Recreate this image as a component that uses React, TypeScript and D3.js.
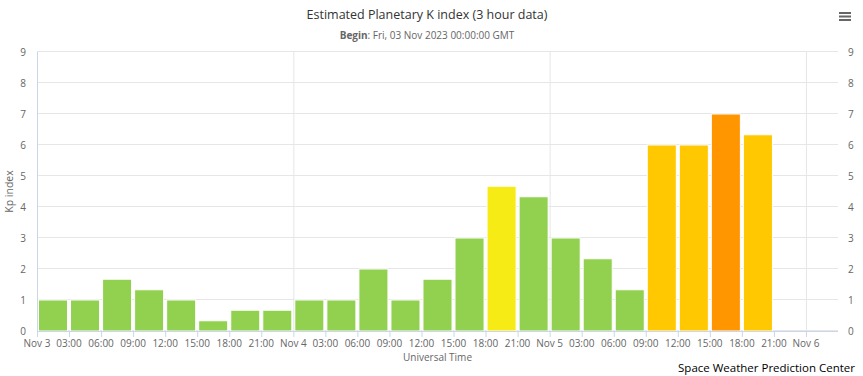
import React from "react";
import * as d3 from "d3";

const kpValues: (number | null)[] = [
  1, 1, 1.67, 1.33, 1, 0.33, 0.67, 0.67,
  1, 1, 2, 1, 1.67, 3, 4.67, 4.33,
  3, 2.33, 1.33, 6, 6, 7, 6.33, null,
];
const yTicks = [0, 1, 2, 3, 4, 5, 6, 7, 8, 9];
const startMs = Date.UTC(2023, 10, 3, 0, 0, 0);
const hourMs = 3600 * 1000;
const colorThresholds = [4.5, 5.5, 6.5, 7.5];
const colorRange = ["#92D050", "#F6EB14", "#FFC800", "#FF9600", "#FF0000"];

const W = 863;
const H = 376;
const left = 37;
const right = 838;
const top = 52;
const bottom = 331;
const FONT = "'Open Sans', 'DejaVu Sans', sans-serif";

export default function App() {
  const x = d3
    .scaleUtc()
    .domain([new Date(startMs), new Date(startMs + 75 * hourMs)])
    .range([left, right]);
  const y = d3.scaleLinear().domain([0, 9]).range([bottom, top]);
  const color = d3.scaleThreshold<number, string>().domain(colorThresholds).range(colorRange);

  const xTicks: Date[] = d3.range(0, 73, 3).map((h) => new Date(startMs + h * hourMs));
  const dayTicks = xTicks.filter((d) => d.getUTCHours() === 0);
  const fmtTick = (d: Date) =>
    d.getUTCHours() === 0 ? `Nov ${d.getUTCDate()}` : d3.utcFormat("%H:%M")(d);

  return (
    <svg width={W} height={H} style={{ display: "block", position: "absolute", left: 0, top: 0 }} fontFamily={FONT}>
      <rect width={W} height={H} fill="#fff" />
      {yTicks.map((t) => (
        <line key={"g" + t} x1={left} x2={right} y1={y(t) - 0.5} y2={y(t) - 0.5} stroke="#e6e6e6" strokeWidth={1} />
      ))}
      {dayTicks.map((d, i) => (
        <line key={"v" + i} x1={x(d) + 0.5} x2={x(d) + 0.5} y1={top} y2={bottom} stroke="#e6e6e6" strokeWidth={1} />
      ))}
      {kpValues.map((v, i) =>
        v == null ? null : (
          <rect
            key={"b" + i}
            x={x(new Date(startMs + i * 3 * hourMs)) + 1.5}
            y={y(v)}
            width={x(new Date(startMs + (i + 1) * 3 * hourMs)) - x(new Date(startMs + i * 3 * hourMs)) - 3}
            height={bottom - y(v)}
            fill={color(v)}
            stroke="#fff"
            strokeWidth={1}
          />
        )
      )}
      <line x1={left + 0.5} x2={left + 0.5} y1={top} y2={bottom} stroke="#ccd6eb" />
      <line x1={left} x2={right} y1={bottom + 0.5} y2={bottom + 0.5} stroke="#ccd6eb" />
      {xTicks.map((d, i) => (
        <g key={"t" + i}>
          <line x1={x(d) + 0.5} x2={x(d) + 0.5} y1={bottom} y2={bottom + 6} stroke="#ccd6eb" />
          <text x={x(d)} y={bottom + 15.5} textAnchor="middle" fontSize={10} fill="#666">
            {fmtTick(d)}
          </text>
        </g>
      ))}
      {yTicks.map((t) => (
        <g key={"y" + t}>
          <text x={26} y={y(t) + 3.5} textAnchor="end" fontSize={10} fill="#666">{t}</text>
          <text x={848} y={y(t) + 3.5} textAnchor="start" fontSize={10} fill="#666">{t}</text>
        </g>
      ))}
      <text transform={`translate(13,${(top + bottom) / 2}) rotate(-90)`} textAnchor="middle" fontSize={10.5} fill="#666">
        Kp index
      </text>
      <text x={(left + right) / 2} y={361} textAnchor="middle" fontSize={10} fill="#666">
        Universal Time
      </text>
      <text x={427} y={19} textAnchor="middle" fontSize={12.5} fill="#333">
        Estimated Planetary K index (3 hour data)
      </text>
      <text x={427} y={39} textAnchor="middle" fontSize={10} fill="#666">
        <tspan fontWeight="bold">Begin</tspan>
        <tspan>: Fri, 03 Nov 2023 00:00:00 GMT</tspan>
      </text>
      <text x={855} y={372} textAnchor="end" fontSize={11.5} fill="#000">
        Space Weather Prediction Center
      </text>
      {[0, 1, 2].map((k) => (
        <rect key={"m" + k} x={839} y={12 + k * 3.5} width={12} height={2} fill="#666" />
      ))}
    </svg>
  );
}
